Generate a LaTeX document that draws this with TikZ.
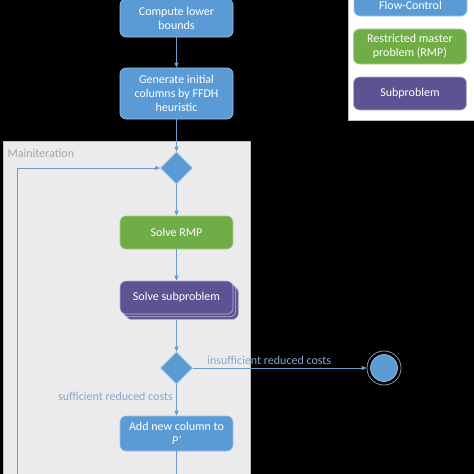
\documentclass[tikz,border=0pt]{standalone}
\usepackage{fontspec}
\setmainfont{Carlito}
\usetikzlibrary{shapes.geometric, arrows.meta, shadows}
\definecolor{flowblue}{HTML}{5B9BD5}
\definecolor{rmpgreen}{HTML}{70AD47}
\definecolor{subpurple}{HTML}{5E5392}
\definecolor{arrowblue}{HTML}{6E9BCB}
\definecolor{lblblue}{HTML}{8AA8CC}
\definecolor{mainfill}{HTML}{EBEBEB}
\definecolor{maingray}{HTML}{A6A6A6}
\definecolor{legendgray}{HTML}{BFBFBF}

\begin{document}
\begin{tikzpicture}[
    x=1pt, y=-1pt,
    box/.style={draw=white!40!flowblue, fill=flowblue, rounded corners=6pt, line width=0.6pt,
        minimum width=113pt, minimum height=33pt, align=center, text=white,
        font=\fontsize{12}{14.2}\selectfont},
    rmp/.style={box, draw=white!40!rmpgreen, fill=rmpgreen},
    sub/.style={box, draw=white!55!subpurple, fill=subpurple},
    decision/.style={diamond, draw=white!40!flowblue, fill=flowblue, line width=0.6pt,
        minimum width=32pt, minimum height=32pt, inner sep=0pt},
    arrow/.style={-{Triangle[length=5pt,width=4pt]}, draw=arrowblue, line width=0.7pt},
    lbl/.style={font=\fontsize{12}{14}\selectfont, text=lblblue}
]
    \clip (0,0) rectangle (474,474);
    \fill[black] (0,0) rectangle (474,474);

    % Hauptiteration
    \filldraw[fill=mainfill, draw=legendgray, line width=0.6pt] (3,141) rectangle (250,480);
    \node[anchor=west, text=maingray, font=\fontsize{12}{14}\selectfont] (mainlbl) at (4,153) {Mainiteration};

    % Legende
    \filldraw[fill=white, draw=legendgray, line width=0.6pt] (348,-5) rectangle (480,120);
    \node[box, minimum height=22pt] (lgflow) at (410.5,5) {Flow-Control};
    \node[rmp, minimum height=35pt] (lgrmp) at (410,46.5) {Restricted master\\problem (RMP)};
    \node[sub] (lgsub) at (410,93.5) {Subproblem};

    % Ablauf
    \node[box, minimum height=38pt] (lower) at (176.5,18) {Compute lower\\bounds};
    \node[box, minimum height=51pt] (init) at (176.5,93.5) {Generate initial\\columns by FFDH\\heuristic};
    \node[decision] (d1) at (176.5,168) {};
    \node[rmp] (solvermp) at (176.5,232.5) {Solve RMP};
    \node[sub, double copy shadow={shadow xshift=2.7pt, shadow yshift=-2.7pt}] (solvesub) at (176.5,297.5) {Solve subproblem};
    \node[decision] (d2) at (176.5,368) {};
    \node[box, minimum height=35pt] (addcol) at (176.5,433.5) {Add new column to\\\textit{P'}};

    % Endknoten
    \node[circle, draw=lblblue, line width=0.7pt, minimum size=34pt, inner sep=0pt] (stopring) at (384,368) {};
    \node[circle, draw=white!40!flowblue, fill=flowblue, line width=0.6pt, minimum size=27pt, inner sep=0pt] (stop) at (384,368) {};

    \coordinate (loopb) at (176.5,485);
    \coordinate (loopl) at (17,485);

    \draw[arrow] (lower) -- (init);
    \draw[arrow] (init) -- (d1);
    \draw[arrow] (d1) -- (solvermp);
    \draw[arrow] (solvermp) -- (solvesub);
    \draw[arrow] (solvesub.south |- 0,320) -- (d2);
    \draw[arrow] (d2) -- node[lbl, above, pos=0.44] {insufficient reduced costs} (stopring);
    \draw[arrow] (d2) -- node[lbl, left, pos=0.4] {sufficient reduced costs} (addcol);
    \draw[arrow] (addcol) -- (loopb) -- (loopl) |- (d1);
\end{tikzpicture}
\end{document}
